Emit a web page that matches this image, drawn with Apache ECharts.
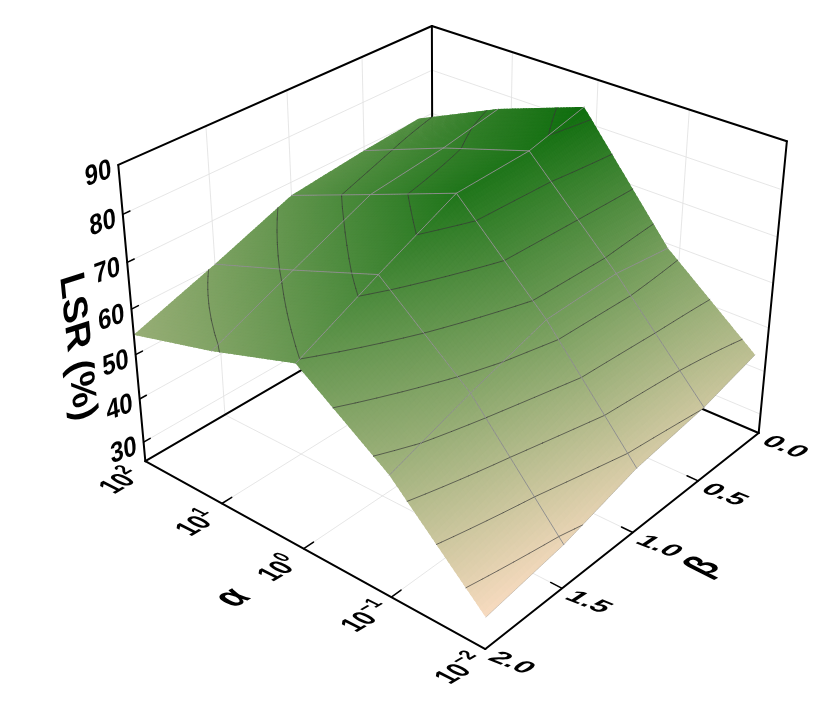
<!DOCTYPE html><html><head><meta charset="utf-8"><style>html,body{margin:0;background:#fff}#c{width:831px;height:720px}</style>
<script src="https://cdn.jsdelivr.net/npm/echarts@6/dist/echarts.min.js"></script></head><body><div id="c"></div><script>
// ---- data ----
const alphaExponents=[2,1,0,-1,-2];
const betaTicks=[2,1.5,1,0.5,0];
const betaGrid=[2,1.5,1,0.5,0.1];
const zTicks=[30,40,50,60,70,80,90];
const lsrBeta20=[54.4,59.4,65.5,51.8,32.4];
const lsrBeta15=[60.5,67.0,73.9,57.8,35.2];
const lsrBeta10=[67.1,74.4,81.8,63.1,40.0];
const lsrBeta05=[69.1,76.4,82.5,63.5,42.4];
const lsrBeta01=[70.3,78.9,85.7,61.8,45.9];
const lsrRows=[lsrBeta20,lsrBeta15,lsrBeta10,lsrBeta05,lsrBeta01];
const contourLevels=[36.4,42.3,48.2,54.1,60.0,65.9,71.8,77.7,83.6];
const zMin=25.5,zMax=90;
// ---- camera: box corners on the page, [a,b,c, page x, page y] ----
const boxAnchors=[[0,0,0,145,462],[1,0,0,486,648],[1,1,0,758,435],[0,1,0,433,292],[0,0,1,118,165],[1,1,1,787,140],[0,1,1,432,27]];
function solve(A,y){const n=y.length;const M=A.map((r,i)=>r.concat(y[i]));for(let i=0;i<n;i++){let p=i;for(let k=i+1;k<n;k++)if(Math.abs(M[k][i])>Math.abs(M[p][i]))p=k;[M[i],M[p]]=[M[p],M[i]];for(let k=0;k<n;k++){if(k===i)continue;const f=M[k][i]/M[i][i];for(let j=i;j<=n;j++)M[k][j]-=f*M[i][j];}}return M.map((r,i)=>r[n]/r[i]);}
const rowsA=[],rowsY=[];boxAnchors.forEach(([X,Y,Z,u,v])=>{rowsA.push([X,Y,Z,1,0,0,0,0,-u*X,-u*Y,-u*Z]);rowsY.push(u);rowsA.push([0,0,0,0,X,Y,Z,1,-v*X,-v*Y,-v*Z]);rowsY.push(v);});
const ata=Array.from({length:11},(_,i)=>Array.from({length:11},(_,j)=>rowsA.reduce((s,r)=>s+r[i]*r[j],0)));
const aty=Array.from({length:11},(_,i)=>rowsA.reduce((s,r,k)=>s+r[i]*rowsY[k],0));
const P=solve(ata,aty);
const proj=(a,b,c)=>{const w=P[8]*a+P[9]*b+P[10]*c+1;return [(P[0]*a+P[1]*b+P[2]*c+P[3])/w,(P[4]*a+P[5]*b+P[6]*c+P[7])/w];};
const lin=echarts.number.linearMap;
const aOf=e=>lin(e,[2,-2],[0,1]);
const bOf=v=>lin(v,[2,0],[0,1]);
const cOf=z=>lin(z,[zMin,zMax],[0,1]);
const zColor=z=>{const t=Math.max(0,Math.min(1,lin(z,[32.4,85.7],[0,1])));
 return 'rgb('+Math.round(248-t*233)+','+Math.round(219-t*109)+','+Math.round(192-t*178)+')';};
const bil=(i,j,s,t)=>{const R=lsrRows;return (R[j][i]*(1-s)+R[j][i+1]*s)*(1-t)+(R[j+1][i]*(1-s)+R[j+1][i+1]*s)*t;};
const pt3=(i,j,s,t)=>{const a=aOf(alphaExponents[i]+(alphaExponents[i+1]-alphaExponents[i])*s),b=bOf(betaGrid[j]+(betaGrid[j+1]-betaGrid[j])*t);return proj(a,b,cOf(bil(i,j,s,t)));};
// ---- segments ----
const frameSegs=[];const GRID={stroke:'#e0e0e0',lineWidth:0.8};const EDGE={stroke:'#000',lineWidth:2};
const seg=(list,p,q,st)=>list.push({p:proj(...p),q:proj(...q),st});
alphaExponents.slice(1,-1).forEach(e=>{const a=aOf(e);seg(frameSegs,[a,0,0],[a,1,0],GRID);seg(frameSegs,[a,1,0],[a,1,1],GRID);});
betaTicks.slice(1,-1).forEach(v=>{const b=bOf(v);seg(frameSegs,[0,b,0],[1,b,0],GRID);seg(frameSegs,[0,b,0],[0,b,1],GRID);});
zTicks.slice(0,-1).forEach(z=>{const c=cOf(z);seg(frameSegs,[0,0,c],[0,1,c],GRID);seg(frameSegs,[0,1,c],[1,1,c],GRID);});
seg(frameSegs,[0,0,0],[0,1,0],EDGE);seg(frameSegs,[0,1,0],[1,1,0],EDGE);seg(frameSegs,[0,1,0],[0,1,1],EDGE);
seg(frameSegs,[0,0,1],[0,1,1],EDGE);seg(frameSegs,[0,1,1],[1,1,1],EDGE);
const frontSegs=[];
seg(frontSegs,[0,0,0],[1,0,0],EDGE);seg(frontSegs,[1,0,0],[1,1,0],EDGE);seg(frontSegs,[0,0,0],[0,0,1],EDGE);seg(frontSegs,[1,1,0],[1,1,1],EDGE);
const TICK={stroke:'#000',lineWidth:1.5};
alphaExponents.slice(1,-1).forEach(e=>seg(frontSegs,[aOf(e),0,0],[aOf(e),0.03,0],TICK));
betaTicks.slice(1,-1).forEach(v=>seg(frontSegs,[1,bOf(v),0],[0.97,bOf(v),0],TICK));
zTicks.slice(0,-1).forEach(z=>seg(frontSegs,[0,0,cOf(z)],[0,0.02,cOf(z)],TICK));
// mesh + contours
const nA=alphaExponents.length-1,nB=betaGrid.length-1,SUB=30,CSUB=6;
const meshLines=[];
const CONT={stroke:'rgba(55,55,55,0.85)',lineWidth:0.8};
for(let j=0;j<nB;j++)for(let i=0;i<nA;i++)for(let u=0;u<CSUB;u++)for(let v=0;v<CSUB;v++){
 const s0=u/CSUB,s1=(u+1)/CSUB,t0=v/CSUB,t1=(v+1)/CSUB;const cs=[[s0,t0],[s1,t0],[s1,t1],[s0,t1]];const zs=cs.map(q=>bil(i,j,q[0],q[1]));
 contourLevels.forEach(L=>{const pts=[];for(let k=0;k<4;k++){const z1=zs[k],z2=zs[(k+1)%4];if((z1<L)!==(z2<L)){const f=(L-z1)/(z2-z1);const a=cs[k],b=cs[(k+1)%4];pts.push(pt3(i,j,a[0]+(b[0]-a[0])*f,a[1]+(b[1]-a[1])*f));}}
  if(pts.length>=2)meshLines.push({p:pts[0],q:pts[1],st:CONT});if(pts.length===4)meshLines.push({p:pts[2],q:pts[3],st:CONT});});
}
const MESH={stroke:'rgba(140,140,140,0.95)',lineWidth:1};
const RIM={stroke:'rgba(140,140,140,0.6)',lineWidth:0.6};
for(let j=1;j<nB;j++)for(let i=0;i<nA;i++){meshLines.push({p:pt3(i,j,0,0),q:pt3(i,j,1,0),st:MESH});}
for(let i=1;i<=nA;i++)for(let j=0;j<nB;j++){const I=Math.min(i,nA-1),s=i-I;meshLines.push({p:pt3(I,j,s,0),q:pt3(I,j,s,1),st:i===nA?RIM:MESH});}
// surface cells, painted back to front
const cells=[];for(let j=nB-1;j>=0;j--)for(let i=0;i<nA;i++)cells.push([i,j]);
// ---- labels ----
const affine=(ux,uy,vx,vy)=>{const L=Math.hypot(ux,uy),th=Math.atan2(uy,ux);const px=(vx*ux+vy*uy)/L,py=(-vx*uy+vy*ux)/L;return {rotation:-th,scaleX:L,scaleY:py,skewX:px/py};};
const AF_A=affine(0.86*1.05,-0.5*1.05,0.87*1.25,0.5*1.25),AF_B=affine(0.93*1.3,0.37*1.3,-0.8*1.0,0.6*1.0),AF_Z=affine(0.94,-0.34,0.09*1.12,1.12),AF_T=affine(0.1*1.06,0.995*1.06,-0.95,0.3);
const font='"Liberation Sans"';
const labels=[];
alphaExponents.forEach(e=>{const q=proj(aOf(e),0,0);labels.push({x:q[0]-26,y:q[1]+19,af:AF_A,text:'{b|10}{s|'+String(e).replace('-','\u2212')+'}',size:23,rich:{b:{fontSize:23,fontWeight:'bold',fontFamily:font,fill:'#000',verticalAlign:'bottom'},s:{fontSize:16,fontWeight:'bold',fontFamily:font,fill:'#000',verticalAlign:'top',padding:[0,0,12,0]}}});});
betaTicks.forEach(v=>{const q=proj(1,bOf(v),0);labels.push({x:q[0]+26,y:q[1]+14,af:AF_B,text:v.toFixed(1),size:23});});
zTicks.forEach(z=>{const q=proj(0,0,cOf(z));labels.push({x:q[0]-20,y:q[1]+9,af:AF_Z,text:String(z),size:25});});
labels.push({x:77,y:347,af:AF_T,text:'LSR (%)',size:36});
labels.push({x:233,y:598,af:AF_A,text:'\u03b1',size:32});
labels.push({x:703,y:567,af:AF_A,text:'\u03b2',size:32});
// ---- chart ----
const idx=l=>l.map((_,i)=>[i,i]);
const segSeries=(list,z)=>({type:'custom',coordinateSystem:'cartesian2d',z,silent:true,clip:false,animation:false,encode:{x:0,y:1},data:idx(list),
 renderItem:(p,api)=>{const d=list[p.dataIndex],A=api.coord(d.p),B=api.coord(d.q);return {type:'line',shape:{x1:A[0],y1:A[1],x2:B[0],y2:B[1]},style:Object.assign({lineCap:'round'},d.st)};}});
const ch=echarts.init(document.getElementById('c'));
ch.setOption({animation:false,backgroundColor:'#fff',
 grid:{left:0,right:0,top:0,bottom:0},
 xAxis:{type:'value',min:0,max:831,show:false},yAxis:{type:'value',min:0,max:720,inverse:true,show:false},
 series:[segSeries(frameSegs,1),
 {type:'custom',coordinateSystem:'cartesian2d',z:2,silent:true,clip:false,animation:false,encode:{x:0,y:1},data:idx(cells),
  renderItem:(p,api)=>{const [i,j]=cells[p.dataIndex];const children=[];const e=0.6/SUB;
   for(let v=SUB-1;v>=0;v--)for(let u=0;u<SUB;u++){const s0=u/SUB,s1=(u+1)/SUB,t0=v/SUB,t1=(v+1)/SUB;
    const se=Math.min(1,s1+e),te=Math.max(0,t0-e);
    const poly=[pt3(i,j,s0,te),pt3(i,j,se,te),pt3(i,j,se,t1),pt3(i,j,s0,t1)].map(q=>api.coord(q));
    const col=zColor(bil(i,j,(s0+s1)/2,(t0+t1)/2));
    children.push({type:'polygon',shape:{points:poly},style:{fill:col}});}
   return {type:'group',children};}},
 segSeries(meshLines,3),segSeries(frontSegs,4),
 {type:'custom',coordinateSystem:'cartesian2d',z:5,silent:true,clip:false,animation:false,encode:{x:0,y:1},data:idx(labels),
  renderItem:(p,api)=>{const d=labels[p.dataIndex],A=api.coord([d.x,d.y]);
   return Object.assign({type:'text',x:A[0],y:A[1],style:{text:d.text,rich:d.rich,fill:'#000',fontSize:d.size,fontWeight:'bold',fontFamily:font,align:'center',verticalAlign:'middle'}},d.af);}}
 ]});
</script></body></html>
